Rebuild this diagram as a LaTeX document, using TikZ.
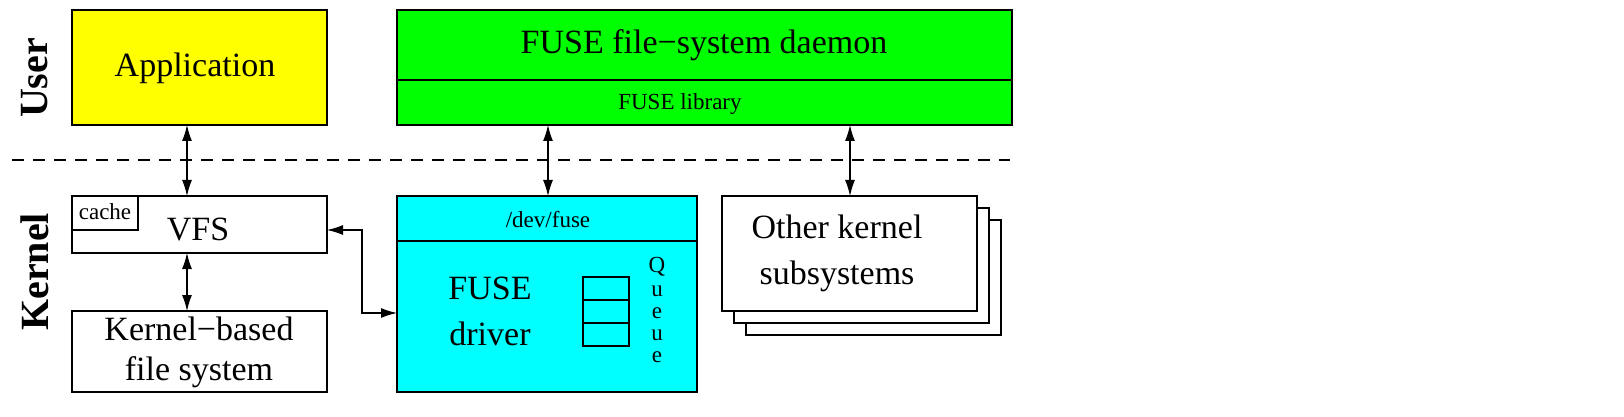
\documentclass[tikz,border=0pt]{standalone}
\usepackage{fontspec}
\setmainfont{Liberation Serif}
\usetikzlibrary{arrows.meta}
\begin{document}
\begin{tikzpicture}[x=0.5pt,y=-0.5pt,
  box/.style={draw,line width=0.6pt},
  big/.style={font=\fontsize{17}{19}\selectfont},
  small/.style={font=\fontsize{11.5}{13}\selectfont},
  side/.style={font=\fontsize{20}{20}\selectfont\bfseries,rotate=90},
  arr/.style={{Latex[length=8pt,width=5pt]}-{Latex[length=8pt,width=5pt]},line width=0.6pt}]
\useasboundingbox (0,0) rectangle (1624,417);
\definecolor{appy}{RGB}{255,255,0}
\definecolor{fg}{RGB}{0,255,0}
\definecolor{fc}{RGB}{0,255,255}
\node[side] (user) at (35,78) {User};
\node[side] (kernel) at (35,272) {Kernel};
% user boxes
\draw[box,fill=appy] (72,10) rectangle (327,125);
\node[big] (app) at (195,68) {Application};
\coordinate (appb) at (187,125);
\draw[box,fill=fg] (397,10) rectangle (1012,125);
\draw[box] (397,80) -- (1012,80);
\node[big] (daemon) at (704,45) {FUSE file−system daemon};
\node[small] (lib) at (680,104) {FUSE library};
\coordinate (libb1) at (548,125);
\coordinate (libb2) at (850,125);
\draw[line width=0.8pt,dash pattern=on 6pt off 4.5pt] (12,160) -- (1010,160);
% VFS
\draw[box] (72,196) rectangle (327,253);
\draw[box] (72,196) rectangle (138,230);
\node[small] (cache) at (105,212) {cache};
\node[big] (vfs) at (198,230) {VFS};
\coordinate (vfst) at (187,196);
\coordinate (vfsb) at (187,253);
\coordinate (vfsr) at (327,230);
% kernel fs
\draw[box] (72,311) rectangle (327,392);
\node[big,align=center] (kfs) at (199,352) {Kernel−based\\[1pt]file system};
\coordinate (kfst) at (187,311);
% FUSE driver
\draw[box,fill=fc] (397,196) rectangle (697,392);
\draw[box] (397,241) -- (697,241);
\node[small] (dev) at (548,220) {/dev/fuse};
\node[big,align=center] (drv) at (490,311) {FUSE\\[4pt]driver};
\draw[box] (583,277) rectangle (629,300);
\draw[box] (583,300) rectangle (629,323);
\draw[box] (583,323) rectangle (629,346);
\node[small,inner sep=0pt] (q1) at (657,267) {Q};
\node[small,inner sep=0pt] (q2) at (657,291) {u};
\node[small,inner sep=0pt] (q3) at (657,313) {e};
\node[small,inner sep=0pt] (q4) at (657,335) {u};
\node[small,inner sep=0pt] (q5) at (657,357) {e};
\coordinate (drvt) at (548,196);
\coordinate (drvl) at (397,313);
% other kernel
\draw[box,fill=white] (746,220) rectangle (1001,335);
\draw[box,fill=white] (734,208) rectangle (989,323);
\draw[box,fill=white] (722,196) rectangle (977,311);
\node[big,align=center] (other) at (837,253) {Other kernel\\[4pt]subsystems};
\coordinate (othert) at (850,196);
% arrows
\draw[arr] (appb) -- (vfst);
\draw[arr] (vfsb) -- (kfst);
\draw[arr] (libb1) -- (drvt);
\draw[arr] (libb2) -- (othert);
\draw[arr] (vfsr) -- (362,230) -- (362,313) -- (drvl);
\end{tikzpicture}
\end{document}
